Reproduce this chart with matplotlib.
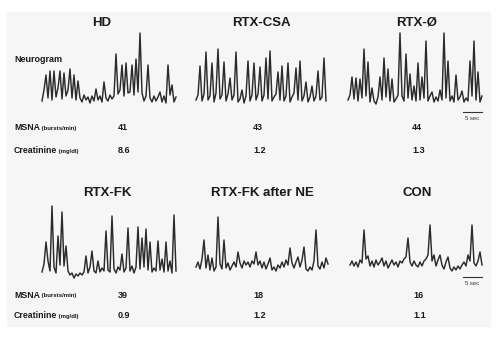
import numpy as np
import matplotlib
matplotlib.use("Agg")
import matplotlib.pyplot as plt

plt.rcParams['font.family'] = ['Liberation Sans', 'DejaVu Sans']

# neurogram traces, height above baseline (px-like units), one sample every 2 px
hd = [-3, 8, 23, 0, 27, -2, 27, 1, 10, 27, -1, 25, 2, 8, 29, 0, 23, -2, 17, 0,
      -4, 3, -2, 1, -5, 2, -3, 9, -2, 2, -4, 16, 0, -3, 3, -1, 2, 44, 4, 8,
      33, 2, 35, 5, 6, 33, 3, 39, 6, 65, 5, -3, 2, 33, 0, -4, 2, -3, 1, 6,
      -4, 2, -5, 33, 3, 13, -4, 1]
rtx_csa = [-2, 3, 32, -3, 4, 46, -2, 2, 35, -4, 5, 49, -1, 3, 36, -3, 4, 20, -2, 3,
           46, -4, -1, 8, -5, 2, 37, -3, 3, 35, -2, 4, 31, -3, 3, 40, -1, 47, -3, 1,
           4, 26, -2, 32, -3, 2, 35, -4, 1, 5, 30, -2, 37, -3, 2, 16, -4, 1, 12, -3,
           2, 27, -2, 1, 40, -3]
rtx_0 = [-2, 3, 21, -1, 20, -3, 19, 0, 49, 2, 36, -4, 10, -3, -6, 1, 21, -2, 40, 1,
         29, -3, 19, -4, -1, 3, 65, 2, -3, 44, 0, 24, -2, 12, -3, 35, -2, 21, 0, 57,
         -3, 2, 6, -4, 1, -3, 8, -2, 65, 0, 37, -3, 2, -4, 23, -2, 1, 7, -4, 0,
         -3, 37, 2, 57, -2, 26, -4, 2]
rtx_fk = [-3, 5, 27, 8, -2, 63, 2, -4, 33, 4, 57, 3, 23, -2, -6, -4, -9, -5, -7, -4,
          -6, -3, 13, -4, 2, 18, -2, -4, 8, -3, 1, -2, 38, -1, -3, 53, 0, -4, 2, -1,
          15, -3, 1, 41, -2, 3, -4, 2, 42, 0, 31, 2, 40, -1, 27, -3, 1, -2, 28, -1,
          10, -3, 27, -2, 8, -4, 54, -2]
rtx_fk_ne = [-2, 3, -4, 6, 25, -3, 10, -5, 7, -6, -2, 48, 1, -4, 25, -3, 2, -5, -1, 3,
             -2, 13, 2, -3, 4, 0, 3, -2, 4, 1, 13, 0, 4, -3, 3, -4, 1, 7, -5, -2,
             -6, 0, -3, 3, -2, 5, 0, 17, 2, -3, 3, 8, -2, 5, 18, -4, -6, -2, -5, 4,
             35, -1, -4, 3, -3, 7, 1]
con = [-2, 2, -3, 1, -4, 3, 0, 33, 4, 7, -3, 2, -4, 3, -2, 1, 5, -3, 2, -5,
       -1, 3, -2, 1, -4, 2, 0, 4, 6, 25, 1, -3, 2, -2, -4, 1, -3, 2, 4, 8,
       38, 2, 8, -3, 3, 8, -2, -6, 1, 6, -5, -8, -4, -7, -3, -6, -2, 1, -3, 8,
       2, 38, 0, -3, 2, 11, -2]

titles = ["HD", "RTX-CSA", "RTX-\u00d8", "RTX-FK", "RTX-FK after NE", "CON"]
traces = [hd, rtx_csa, rtx_0, rtx_fk, rtx_fk_ne, con]
msna = ["41", "43", "44", "39", "18", "16"]
creatinine = ["8.6", "1.2", "1.3", "0.9", "1.2", "1.1"]

W, H = 500, 339
fig = plt.figure(figsize=(W / 100, H / 100), dpi=100)


def fx(x):
    return x / W


def fy(y):
    return 1 - y / H


# faint scanned background
fig.patches.append(plt.Rectangle((fx(7), fy(326)), fx(483), 314 / H,
                                 transform=fig.transFigure, color='#f6f6f6',
                                 zorder=-10))

# layout: trace start px, title centre px, value left px, row tops
starts = [42, 196, 348, 42, 196, 350]
title_x = [102, 261, 417, 107, 262, 417]
value_x = [118, 253, 412, 118, 253, 413]
baselines = [98, 98, 98, 269, 265, 263]
rows = [dict(top=28, bottom=110, title=23, msna=128, crea=151, bar=112),
        dict(top=198, bottom=285, title=193, msna=295, crea=316, bar=277)]

for k, (tr, title) in enumerate(zip(traces, titles)):
    r = rows[k // 3]
    n = len(tr)
    x0 = starts[k] - 1
    ax = fig.add_axes([fx(x0), fy(r['bottom']), 2 * n / W,
                       (r['bottom'] - r['top']) / H], zorder=5)
    ax.plot(np.arange(n), tr, color='#2b2b2b', lw=1.05)
    ax.set_xlim(-0.5, n - 0.5)
    ax.set_ylim(-(r['bottom'] - baselines[k]), baselines[k] - r['top'])
    ax.axis('off')

    fig.text(fx(title_x[k]), fy(r['title']), title, ha='center', va='center',
             fontsize=9.5, fontweight='bold', color='#1a1a1a')
    fig.text(fx(value_x[k]), fy(r['msna']), msna[k], ha='left', va='center',
             fontsize=6.5, fontweight='bold', color='#1a1a1a')
    fig.text(fx(value_x[k]), fy(r['crea']), creatinine[k], ha='left',
             va='center', fontsize=6.5, fontweight='bold', color='#1a1a1a')

for r in rows:
    for y, main, unit in [(r['msna'], "MSNA", " (bursts/min)"),
                          (r['crea'], "Creatinine", " (mg/dl)")]:
        t = fig.text(fx(14), fy(y), main, ha='left', va='center', fontsize=6.3,
                     fontweight='bold', color='#1a1a1a')
        fig.canvas.draw()
        bb = t.get_window_extent()
        fig.text(bb.x1 / W, fy(y + 0.5), unit, ha='left', va='center',
                 fontsize=4.3, fontweight='bold', color='#1a1a1a')
    # 5 sec scale bar
    fig.add_artist(plt.Line2D([fx(463), fx(482)], [fy(r['bar']), fy(r['bar'])],
                              transform=fig.transFigure, color='#333333', lw=0.8))
    fig.text(fx(472.5), fy(r['bar'] + 6.5), "5 sec", ha='center', va='center',
             fontsize=4.3, color='#333333')

fig.text(fx(14), fy(60), "Neurogram", ha='left', va='center', fontsize=6.5,
         fontweight='bold', color='#1a1a1a')

fig.savefig("out.png", dpi=100)
